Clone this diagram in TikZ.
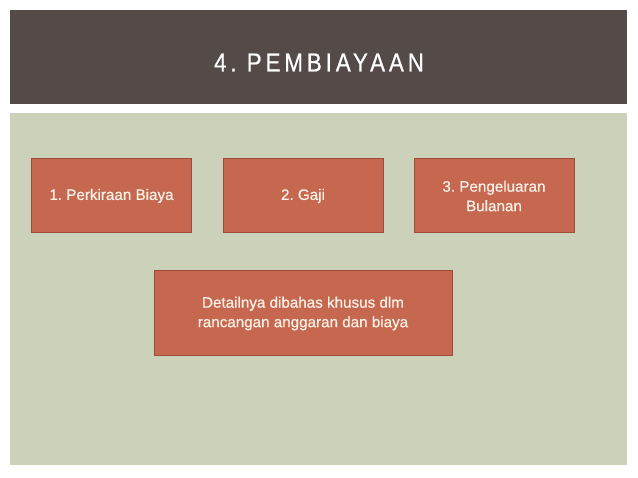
\documentclass[tikz,border=0pt]{standalone}
\usepackage{fontspec}
\setmainfont[FakeBold=0.7]{Liberation Sans}
\newfontfamily\boxfont[FakeBold=0.7]{Liberation Sans}
\newfontfamily\titlefont[FakeStretch=0.86,LetterSpace=15,FakeBold=0.6]{Liberation Sans}
\frenchspacing
\begin{document}
\begin{tikzpicture}[x=1pt,y=-1pt,
  panel/.style={draw=none,inner sep=0pt,anchor=north west},
  itembox/.style={draw=boxline,fill=boxfill,line width=1pt,inner sep=0pt,
    minimum width=160pt,minimum height=74pt,text=boxtext,align=center,
    font=\boxfont\fontsize{15.2}{19.5}\selectfont},
]
\definecolor{barcol}{HTML}{544A48}
\definecolor{greencol}{HTML}{CCD1B9}
\definecolor{boxfill}{HTML}{C5684F}
\definecolor{boxline}{HTML}{9C4C39}
\definecolor{boxtext}{HTML}{FAF0E6}
\useasboundingbox[fill=white] (0,0) rectangle (638,478);
\node[panel,fill=barcol,minimum width=617pt,minimum height=94pt] (bar) at (10,10) {};
\node[text=white,font=\titlefont\fontsize{26}{30}\selectfont] (title) at (319,62.5) {4. PEMBIAYAAN};
\node[panel,fill=greencol,minimum width=617pt,minimum height=352pt] (panel) at (10,113) {};
\node[itembox] (b1) at (111.5,196) {1. Perkiraan Biaya};
\node[itembox] (b2) at (303,196) {2. Gaji};
\node[itembox] (b3) at (494,196) {3. Pengeluaran\\Bulanan};
\node[itembox,minimum width=298pt,minimum height=85pt] (b4) at (303,313.5) {Detailnya dibahas khusus dlm\\rancangan anggaran dan biaya};
\end{tikzpicture}
\end{document}
